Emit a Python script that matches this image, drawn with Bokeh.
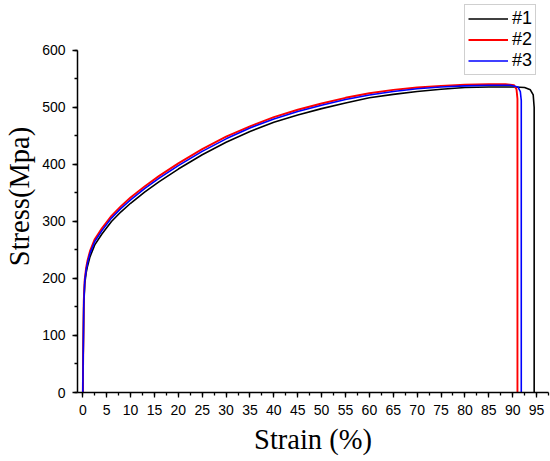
from bokeh.plotting import figure
from bokeh.models import SingleIntervalTicker, Range1d, Legend, LegendItem, Title
from bokeh.embed import file_html
from bokeh.resources import INLINE

# Specimen #1 (black)
strain_1 = [0, 0.2, 0.4, 0.7, 1.0, 1.5, 2.5, 4, 6, 8, 10, 13, 16, 20, 25, 30, 35, 40,
            45, 50, 55, 60, 65, 70, 75, 80, 85, 90.5, 92.5, 93.7, 94.3, 94.5, 94.5]
stress_1 = [0, 150, 190, 210, 222, 238, 259, 278, 300, 317, 332, 352, 370, 392, 417, 439,
            458, 474, 487, 498, 508, 517, 523, 528, 532, 535, 536, 536, 535, 531, 522, 500, 0]

# Specimen #2 (red)
strain_2 = [0, 0.2, 0.4, 0.7, 1.0, 1.5, 2.5, 4, 6, 8, 10, 13, 16, 20, 25, 30, 35, 40,
            45, 50, 55, 60, 65, 70, 75, 80, 85, 88.5, 90.3, 90.8, 91.0, 91.0]
stress_2 = [0, 160, 198, 219, 232, 248, 269, 288, 310, 327, 342, 362, 380, 402, 427, 449,
            467, 483, 496, 507, 517, 525, 531, 535, 538, 540, 541, 541, 539, 532, 515, 0]

# Specimen #3 (blue)
strain_3 = [0, 0.2, 0.4, 0.7, 1.0, 1.5, 2.5, 4, 6, 8, 10, 13, 16, 20, 25, 30, 35, 40,
            45, 50, 55, 60, 65, 70, 75, 80, 85, 89.5, 91.1, 91.6, 91.8, 91.8]
stress_3 = [0, 155, 195, 215, 228, 244, 265, 284, 306, 323, 338, 358, 376, 398, 423, 445,
            464, 480, 493, 504, 514, 522, 528, 533, 536, 538, 539, 539, 536, 528, 512, 0]

legend_labels = ["#1", "#2", "#3"]
x_title = "Strain (%)"
y_title = "Stress(Mpa)"

p = figure(width=550, height=461, output_backend="svg", toolbar_location=None,
           x_range=Range1d(-1.11, 97.5), y_range=Range1d(0, 687.7),
           min_border_left=77, min_border_right=2, min_border_top=0, min_border_bottom=69)
p.outline_line_color = None
p.grid.visible = False
p.background_fill_color = "white"

r1 = p.line(strain_1, stress_1, line_color="#000000", line_width=1.6)
r2 = p.line(strain_2, stress_2, line_color="#ff0000", line_width=1.9)
r3 = p.line(strain_3, stress_3, line_color="#0000ff", line_width=1.6)

p.xaxis.ticker = SingleIntervalTicker(interval=5, num_minor_ticks=2)
p.yaxis.ticker = SingleIntervalTicker(interval=100, num_minor_ticks=2)
p.yaxis.bounds = (0, 600)

for ax in (p.xaxis[0], p.yaxis[0]):
    ax.axis_line_width = 1.5
    ax.axis_line_color = "black"
    ax.major_tick_in = 0
    ax.major_tick_out = 5
    ax.minor_tick_in = 0
    ax.minor_tick_out = 3
    ax.major_tick_line_width = 1.3
    ax.minor_tick_line_width = 1.3
    ax.major_label_text_font = "Liberation Sans"
    ax.major_label_text_font_size = "14px"
    ax.major_label_text_color = "black"
    ax.axis_label_text_font = "Liberation Serif"
    ax.axis_label_text_font_style = "normal"
    ax.axis_label_text_font_size = "28.5px"
    ax.axis_label_text_color = "black"

p.xaxis.axis_label = x_title
p.xaxis.axis_label_standoff = 6
p.yaxis.major_label_standoff = 7
p.xaxis.major_label_standoff = 7

ytitle = Title(text=y_title, align="center", offset=-26, standoff=6,
               vertical_align="top",
               text_font="Liberation Serif", text_font_style="normal",
               text_font_size="28.5px", text_color="black")
p.add_layout(ytitle, "left")

legend = Legend(items=[LegendItem(label=legend_labels[0], renderers=[r1]),
                       LegendItem(label=legend_labels[1], renderers=[r2]),
                       LegendItem(label=legend_labels[2], renderers=[r3])],
                location=(387, 317))
legend.border_line_color = "#a0a0a0"
legend.border_line_width = 1
legend.label_text_font = "Liberation Sans"
legend.label_text_font_size = "18px"
legend.label_text_color = "black"
legend.glyph_width = 40
legend.glyph_height = 19
legend.label_height = 19
legend.label_standoff = 4
legend.spacing = 0
legend.padding = 3
legend.margin = 0
legend.background_fill_alpha = 1
p.add_layout(legend)

open("out.html", "w").write(file_html(p, INLINE))
